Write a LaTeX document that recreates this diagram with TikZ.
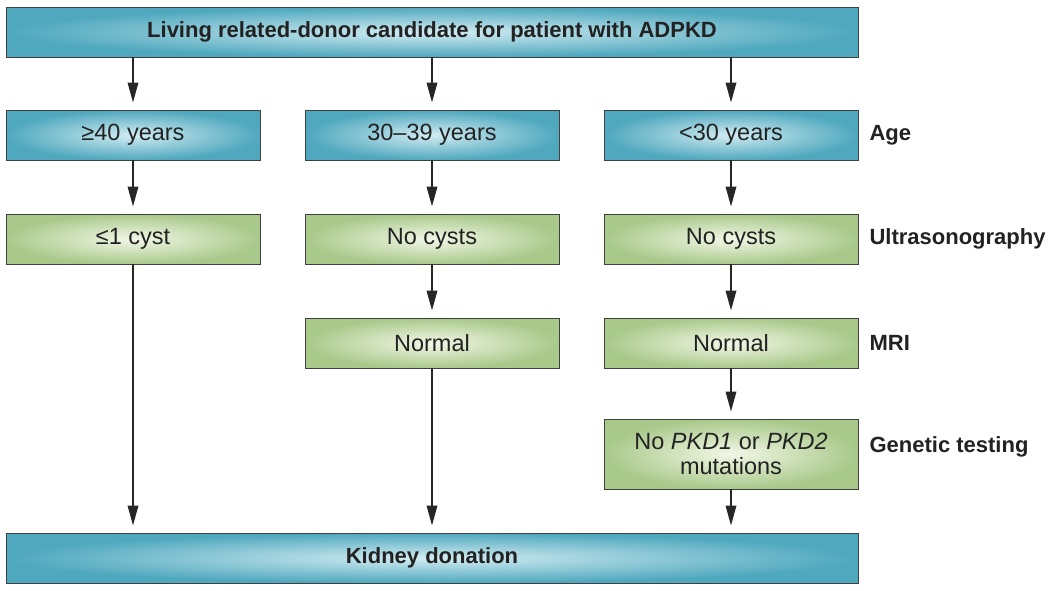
\documentclass[tikz,border=0pt]{standalone}
\usepackage{fontspec}
\setmainfont{Liberation Sans}
\usepackage{tikz}
\usetikzlibrary{arrows.meta}
\definecolor{blueout}{HTML}{4FA8BE}
\definecolor{bluein}{HTML}{D2ECF2}
\definecolor{greenout}{HTML}{A9C98B}
\definecolor{greenin}{HTML}{F2F7E6}
\definecolor{inkgray}{HTML}{222222}
\tikzstyle{bluebox} = [rectangle, minimum width=254pt, minimum height=50pt, inner sep=2pt, align=center, draw=black!75, line width=0.9pt, inner color=bluein, outer color=blueout, text=inkgray, font=\fontsize{23.5}{25}\selectfont]
\tikzstyle{greenbox} = [bluebox, inner color=greenin, outer color=greenout]
\tikzstyle{widebox} = [bluebox, minimum width=852pt, font=\fontsize{22}{25}\selectfont\bfseries]
\tikzstyle{rowlabel} = [anchor=west, text=inkgray, font=\fontsize{22}{25}\selectfont\bfseries]
\tikzstyle{arrow} = [line width=1.8pt, draw=black!85, shorten >=7pt, -{Triangle[length=20pt,width=10.5pt]}]

\begin{document}
\begin{tikzpicture}[x=1pt,y=-1pt]
		\useasboundingbox (0,0) rectangle (1050,590);
		%Candidate
		\node[widebox] (cand) at (432,32) {Living related-donor candidate for patient with ADPKD};
		
		%Age
		\node[bluebox] (age_a) at (133,135) {≥40 years};
		\node[bluebox] (age_b) at (432,135) {30–39 years};
		\node[bluebox] (age_c) at (731,135) {<30 years};
		
		%Ultrasonography
		\node[greenbox] (us_a) at (133,239) {≤1 cyst};
		\node[greenbox] (us_b) at (432,239) {No cysts};
		\node[greenbox] (us_c) at (731,239) {No cysts};
		
		%MRI
		\node[greenbox] (mri_b) at (432,343) {Normal};
		\node[greenbox] (mri_c) at (731,343) {Normal};
		
		%Genetic testing
		\node[greenbox, minimum height=70pt] (gen_c) at (731,454) {No \textit{PKD1} or \textit{PKD2}\\mutations};
		
		%Donation
		\node[widebox] (don) at (432,558) {Kidney donation};
		
		%row labels
		\node[rowlabel] (l_age) at (866,135) {Age};
		\node[rowlabel] (l_us) at (866,239) {Ultrasonography};
		\node[rowlabel] (l_mri) at (866,343) {MRI};
		\node[rowlabel] (l_gen) at (866,447) {Genetic testing};
		
		%connections
		\draw[arrow] (cand.south -| age_a) -- (age_a);
		\draw[arrow] (cand.south -| age_b) -- (age_b);
		\draw[arrow] (cand.south -| age_c) -- (age_c);
		\draw[arrow] (age_a) -- (us_a);
		\draw[arrow] (age_b) -- (us_b);
		\draw[arrow] (age_c) -- (us_c);
		\draw[arrow] (us_b) -- (mri_b);
		\draw[arrow] (us_c) -- (mri_c);
		\draw[arrow] (mri_c) -- (gen_c);
		\draw[arrow] (us_a) -- (don.north -| us_a);
		\draw[arrow] (mri_b) -- (don.north -| mri_b);
		\draw[arrow] (gen_c) -- (don.north -| gen_c);
		
	\end{tikzpicture}
\end{document}
